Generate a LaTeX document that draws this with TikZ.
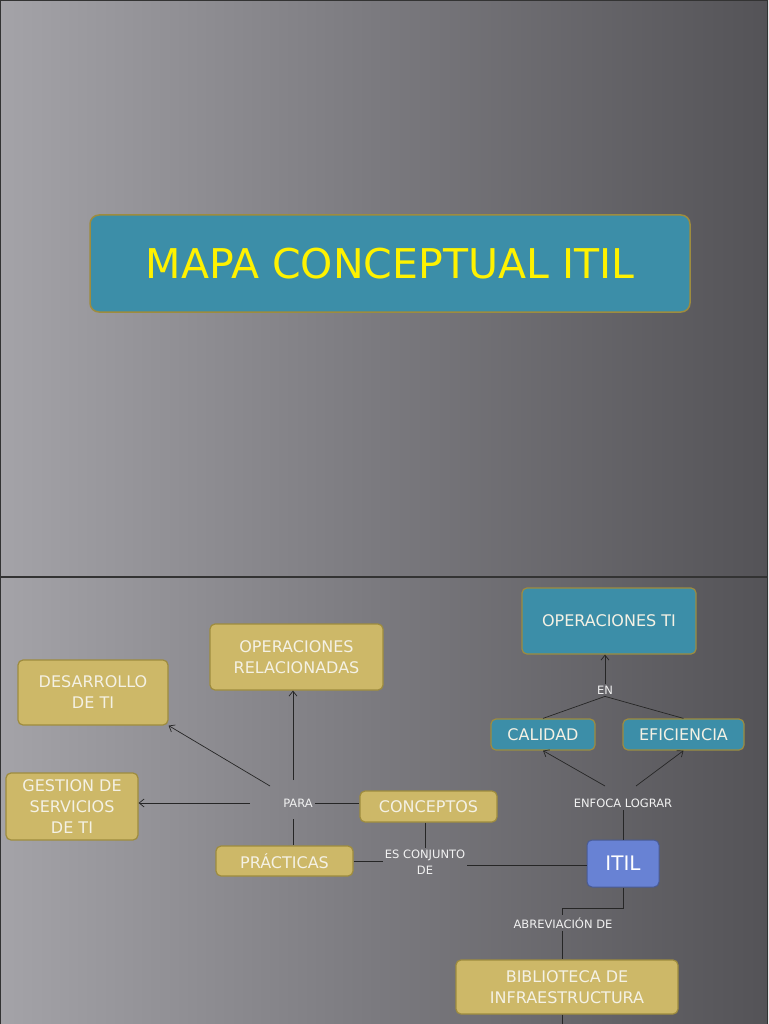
\documentclass[tikz,border=0pt]{standalone}
\usepackage{fontspec}
\setmainfont{DejaVu Sans}
\usetikzlibrary{arrows.meta}
\definecolor{tan}{HTML}{CDB868}
\definecolor{tanb}{HTML}{9E8C3E}
\definecolor{teal}{HTML}{3C8EA8}
\definecolor{itilc}{HTML}{6882D4}
\definecolor{txt}{HTML}{F4F1E4}
\definecolor{bgl}{HTML}{A4A3A8}
\definecolor{bgm}{HTML}{7A797E}
\definecolor{bgr}{HTML}{545357}
\tikzset{
 tanbox/.style={draw=tanb,line width=1.2pt,fill=tan,rounded corners=5pt,text=txt,align=center,font=\fontsize{16}{21}\selectfont,inner sep=0pt},
 tealbox/.style={draw=tanb,line width=1.2pt,fill=teal,rounded corners=5pt,text=txt,align=center,font=\fontsize{16}{21}\selectfont,inner sep=0pt},
 lbl/.style={text=white!90!gray,align=center,font=\fontsize{11.5}{16}\selectfont,inner sep=2pt},
 con/.style={draw=black!85,line width=0.7pt},
 arr/.style={con,-{Straight Barb[length=5pt,width=8pt]}}
}
\begin{document}
\begin{tikzpicture}[x=1pt,y=-1pt]
\useasboundingbox (0,0) rectangle (768,1024);
\shade[left color=bgl,right color=bgr,middle color=bgm] (0,0) rectangle (768,576);
\shade[left color=bgl,right color=bgr,middle color=bgm] (0,577) rectangle (768,1024);
\draw[black!80,line width=1pt] (0,0.5) rectangle (767.5,576.5);
\draw[black!80,line width=1pt] (0,577) rectangle (767.5,1024);
\node[draw=tanb,line width=1.5pt,fill=teal,rounded corners=9pt,minimum width=600pt,minimum height=97pt,text=yellow,font=\fontsize{41}{48}\selectfont] (title) at (390,263.5) {MAPA CONCEPTUAL ITIL};
\node[tealbox,minimum width=174pt,minimum height=66pt] (opti) at (609,621) {OPERACIONES TI};
\node[tealbox,minimum width=104pt,minimum height=31pt] (cal) at (543,734.5) {CALIDAD};
\node[tealbox,minimum width=121pt,minimum height=31pt] (efi) at (683.5,734.5) {EFICIENCIA};
\node[draw=itilc!70!black,line width=1pt,fill=itilc,rounded corners=5pt,minimum width=72pt,minimum height=47pt,text=white,font=\fontsize{20}{24}\selectfont] (itil) at (623,863.5) {ITIL};
\node[tanbox,minimum width=150pt,minimum height=65pt] (des) at (93,692.5) {DESARROLLO\\DE TI};
\node[tanbox,minimum width=173pt,minimum height=66pt] (oprel) at (296.5,657) {OPERACIONES\\RELACIONADAS};
\node[tanbox,minimum width=132pt,minimum height=67pt] (ges) at (72,806.5) {GESTION DE\\SERVICIOS\\DE TI};
\node[tanbox,minimum width=137pt,minimum height=31pt] (con) at (428.5,806.5) {CONCEPTOS};
\node[tanbox,minimum width=137pt,minimum height=30pt] (pra) at (284.5,861) {PRÁCTICAS};
\node[tanbox,minimum width=222pt,minimum height=54pt] (bib) at (567,987) {BIBLIOTECA DE\\INFRAESTRUCTURA};
\node[lbl] (para) at (298,803) {PARA};
\node[lbl] (esc) at (425,862) {ES CONJUNTO\\DE};
\node[lbl] (enf) at (623,803) {ENFOCA LOGRAR};
\node[lbl] (en) at (605,690) {EN};
\node[lbl] (abr) at (563,923) {ABREVIACIÓN DE};
\coordinate (bot) at (562,1024);
\draw[arr] (270,786) -- (des.south east);
\draw[arr] (293,780) -- (oprel.south -| 293,0);
\draw[arr] (250,803) -- (ges.east |- 0,803);
\draw[con] (para.east) -- (con.west |- para.east);
\draw[con] (293,819) -- (pra.north -| 293,0);
\draw[con] (con.south -| 425,0) -- (esc.north);
\draw[con] (pra.east) -- (esc.west |- pra.east);
\draw[con] (esc.east |- 0,865) -- (itil.west |- 0,865);
\draw[con] (itil.north) -- (enf.south);
\draw[arr] (605,786) -- (cal.south);
\draw[arr] (636,786) -- (efi.south);
\draw[con] (cal.north) -- (en.south);
\draw[con] (efi.north) -- (en.south);
\draw[arr] (en.north) -- (opti.south -| en.north);
\draw[con] (itil.south) -- (623,908) -- (562,908) -- (abr.north -| 562,0);
\draw[con] (abr.south -| 562,0) -- (bib.north -| 562,0);
\draw[con] (bib.south -| 562,0) -- (bot);
\end{tikzpicture}
\end{document}
